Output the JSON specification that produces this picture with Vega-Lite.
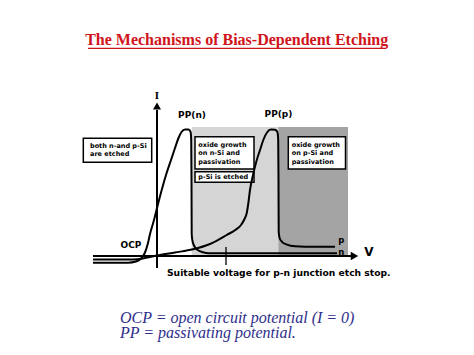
{
  "$schema": "https://vega.github.io/schema/vega-lite/v6.json",
  "width": 474,
  "height": 355,
  "autosize": {"type": "fit", "contains": "padding"},
  "padding": 0,
  "background": "white",
  "config": {"view": {"stroke": null}},
  "datasets": {
    "curves": [
      {"s": "n", "v": -6.4, "i": -0.67}, {"s": "n", "v": -2.9, "i": -0.67}, {"s": "n", "v": -2.1, "i": -0.55},
      {"s": "n", "v": -1.6, "i": -0.25}, {"s": "n", "v": -1.2, "i": 0.35}, {"s": "n", "v": -0.9, "i": 1.3},
      {"s": "n", "v": -0.7, "i": 2.2}, {"s": "n", "v": -0.3, "i": 3.6}, {"s": "n", "v": 0, "i": 4.8},
      {"s": "n", "v": 0.47, "i": 6.6}, {"s": "n", "v": 0.9, "i": 8.1}, {"s": "n", "v": 1.4, "i": 9.6},
      {"s": "n", "v": 1.8, "i": 10.8}, {"s": "n", "v": 2.15, "i": 11.8}, {"s": "n", "v": 2.45, "i": 12.4},
      {"s": "n", "v": 2.8, "i": 12.65}, {"s": "n", "v": 3.15, "i": 12.65}, {"s": "n", "v": 3.36, "i": 12.4},
      {"s": "n", "v": 3.42, "i": 11.6}, {"s": "n", "v": 3.45, "i": 7.6}, {"s": "n", "v": 3.47, "i": 2.2},
      {"s": "n", "v": 3.55, "i": 1.5}, {"s": "n", "v": 3.75, "i": 0.95}, {"s": "n", "v": 4.1, "i": 0.57},
      {"s": "n", "v": 4.6, "i": 0.37}, {"s": "n", "v": 5.2, "i": 0.28}, {"s": "n", "v": 18.0, "i": 0.27},
      {"s": "p", "v": -6.4, "i": -0.35}, {"s": "p", "v": -2.4, "i": -0.35}, {"s": "p", "v": -1.4, "i": -0.25},
      {"s": "p", "v": -0.7, "i": -0.1}, {"s": "p", "v": 0.3, "i": 0.1}, {"s": "p", "v": 1.8, "i": 0.35},
      {"s": "p", "v": 3.6, "i": 0.67}, {"s": "p", "v": 5.3, "i": 1.2}, {"s": "p", "v": 6.97, "i": 2.1},
      {"s": "p", "v": 7.9, "i": 2.65}, {"s": "p", "v": 8.4, "i": 3.1}, {"s": "p", "v": 8.75, "i": 3.7},
      {"s": "p", "v": 8.97, "i": 4.27}, {"s": "p", "v": 9.15, "i": 5.4}, {"s": "p", "v": 9.3, "i": 6.6},
      {"s": "p", "v": 9.6, "i": 8.1}, {"s": "p", "v": 9.95, "i": 9.5}, {"s": "p", "v": 10.3, "i": 10.6},
      {"s": "p", "v": 10.65, "i": 11.65}, {"s": "p", "v": 11.0, "i": 12.35}, {"s": "p", "v": 11.4, "i": 12.64},
      {"s": "p", "v": 11.8, "i": 12.62}, {"s": "p", "v": 12.04, "i": 12.4}, {"s": "p", "v": 12.12, "i": 11.6},
      {"s": "p", "v": 12.15, "i": 7.6}, {"s": "p", "v": 12.17, "i": 2.4}, {"s": "p", "v": 12.26, "i": 1.8},
      {"s": "p", "v": 12.5, "i": 1.42}, {"s": "p", "v": 13.0, "i": 1.14}, {"s": "p", "v": 13.8, "i": 0.97},
      {"s": "p", "v": 14.8, "i": 0.93}, {"s": "p", "v": 17.8, "i": 0.93}
    ],
    "shade": [
      {"k": "light", "v": 3.47, "v2": 12.13, "i": 0.0, "i2": 12.9},
      {"k": "dark", "v": 12.13, "v2": 19.1, "i": 0.0, "i2": 12.9}
    ],
    "boxes": [
      {"v": -7.37, "v2": -0.53, "i": 11.77, "i2": 9.37},
      {"v": 3.8, "v2": 9.7, "i": 11.93, "i2": 8.7},
      {"v": 3.8, "v2": 9.7, "i": 8.43, "i2": 7.37},
      {"v": 13.13, "v2": 18.85, "i": 11.93, "i2": 8.7}
    ],
    "boxtext": [
      {"v": -6.7, "i": 11.03, "t": "both n-and p-Si"},
      {"v": -6.7, "i": 10.17, "t": "are etched"},
      {"v": 4.13, "i": 11.1, "t": "oxide growth"},
      {"v": 4.13, "i": 10.27, "t": "on n-Si and"},
      {"v": 4.13, "i": 9.37, "t": "passivation"},
      {"v": 4.13, "i": 7.93, "t": "p-Si is etched"},
      {"v": 13.47, "i": 11.1, "t": "oxide growth"},
      {"v": 13.47, "i": 10.27, "t": "on p-Si and"},
      {"v": 13.47, "i": 9.37, "t": "passivation"}
    ],
    "vaxis": [{"v": -6.4, "v2": 19.5, "i": 0}],
    "iaxis": [{"v": 0, "i": -1.2, "i2": 14.6}],
    "leader": [{"v": 6.9, "i": 0.9, "i2": -0.9}],
    "varrow": [{"v": 19.75, "i": 0}],
    "iarrow": [{"v": 0, "i": 15.0}],
    "peaks": [
      {"v": 3.5, "i": 14.1, "t": "PP(n)"},
      {"v": 12.15, "i": 14.2, "t": "PP(p)"},
      {"v": -2.6, "i": 1.1, "t": "OCP"}
    ],
    "ends": [
      {"v": 18.13, "i": 1.6, "t": "p"},
      {"v": 18.13, "i": 0.43, "t": "n"}
    ],
    "ilabel": [{"v": 0, "i": 16.0, "t": "I"}],
    "vlabel": [{"v": 21.2, "i": 0.45, "t": "V"}],
    "suitable": [{"v": 1.0, "i": -1.67, "t": "Suitable voltage for p-n junction etch stop."}],
    "title": [{"v": 7.97, "i": 21.1, "t": "The Mechanisms of Bias-Dependent Etching"}],
    "underline": [{"v": -6.9, "v2": 22.9, "i": 20.77}],
    "notes": [
      {"v": -3.7, "i": -6.65, "t": "OCP = open circuit potential (I = 0)"},
      {"v": -3.7, "i": -8.2, "t": "PP = passivating potential."}
    ]
  },
  "encoding": {
    "x": {"field": "v", "type": "quantitative", "scale": {"domain": [-15.7, 31.7], "nice": false, "zero": false}, "axis": null},
    "y": {"field": "i", "type": "quantitative", "scale": {"domain": [-9.9, 25.6], "nice": false, "zero": false}, "axis": null}
  },
  "layer": [
    {
      "data": {"name": "shade"},
      "mark": {"type": "rect", "strokeWidth": 0},
      "encoding": {
        "x2": {"field": "v2"},
        "y2": {"field": "i2"},
        "color": {"field": "k", "type": "nominal", "scale": {"domain": ["light", "dark"], "range": ["#d5d5d5", "#a4a4a4"]}, "legend": null}
      }
    },
    {
      "data": {"name": "boxes"},
      "mark": {"type": "rect", "fill": "white", "stroke": "black", "strokeWidth": 1.5},
      "encoding": {"x2": {"field": "v2"}, "y2": {"field": "i2"}}
    },
    {
      "data": {"name": "curves"},
      "mark": {"type": "line", "color": "black", "strokeWidth": 2, "interpolate": "monotone"},
      "encoding": {"detail": {"field": "s", "type": "nominal"}}
    },
    {
      "data": {"name": "vaxis"},
      "mark": {"type": "rule", "color": "black", "strokeWidth": 2},
      "encoding": {"x2": {"field": "v2"}}
    },
    {
      "data": {"name": "iaxis"},
      "mark": {"type": "rule", "color": "black", "strokeWidth": 2},
      "encoding": {"y2": {"field": "i2"}}
    },
    {
      "data": {"name": "leader"},
      "mark": {"type": "rule", "color": "black", "strokeWidth": 1.3},
      "encoding": {"y2": {"field": "i2"}}
    },
    {
      "data": {"name": "varrow"},
      "mark": {"type": "point", "shape": "triangle-right", "filled": true, "color": "black", "opacity": 1, "size": 75},
      "encoding": {}
    },
    {
      "data": {"name": "iarrow"},
      "mark": {"type": "point", "shape": "triangle-up", "filled": true, "color": "black", "opacity": 1, "size": 65},
      "encoding": {}
    },
    {
      "data": {"name": "boxtext"},
      "mark": {"type": "text", "font": "DejaVu Sans", "fontWeight": "bold", "fontSize": 6.5, "align": "left", "baseline": "middle", "color": "black"},
      "encoding": {"text": {"field": "t"}}
    },
    {
      "data": {"name": "peaks"},
      "mark": {"type": "text", "font": "DejaVu Sans", "fontWeight": "bold", "fontSize": 9, "align": "center", "baseline": "middle", "color": "black"},
      "encoding": {"text": {"field": "t"}}
    },
    {
      "data": {"name": "ends"},
      "mark": {"type": "text", "font": "DejaVu Sans", "fontWeight": "bold", "fontSize": 8.5, "align": "left", "baseline": "middle", "color": "black"},
      "encoding": {"text": {"field": "t"}}
    },
    {
      "data": {"name": "ilabel"},
      "mark": {"type": "text", "font": "Liberation Serif", "fontWeight": "bold", "fontSize": 11, "align": "center", "baseline": "middle", "color": "black"},
      "encoding": {"text": {"field": "t"}}
    },
    {
      "data": {"name": "vlabel"},
      "mark": {"type": "text", "font": "DejaVu Sans", "fontWeight": "bold", "fontSize": 12, "align": "center", "baseline": "middle", "color": "black"},
      "encoding": {"text": {"field": "t"}}
    },
    {
      "data": {"name": "suitable"},
      "mark": {"type": "text", "font": "DejaVu Sans", "fontWeight": "bold", "fontSize": 9.2, "align": "left", "baseline": "middle", "color": "black"},
      "encoding": {"text": {"field": "t"}}
    },
    {
      "data": {"name": "title"},
      "mark": {"type": "text", "font": "Liberation Serif", "fontWeight": "bold", "fontSize": 16, "align": "center", "baseline": "alphabetic", "color": "#d0141c"},
      "encoding": {"text": {"field": "t"}}
    },
    {
      "data": {"name": "underline"},
      "mark": {"type": "rule", "color": "#d0141c", "strokeWidth": 1.3},
      "encoding": {"x2": {"field": "v2"}}
    },
    {
      "data": {"name": "notes"},
      "mark": {"type": "text", "font": "Liberation Serif", "fontStyle": "italic", "fontSize": 16, "align": "left", "baseline": "alphabetic", "color": "#2e2e8c"},
      "encoding": {"text": {"field": "t"}}
    }
  ]
}
